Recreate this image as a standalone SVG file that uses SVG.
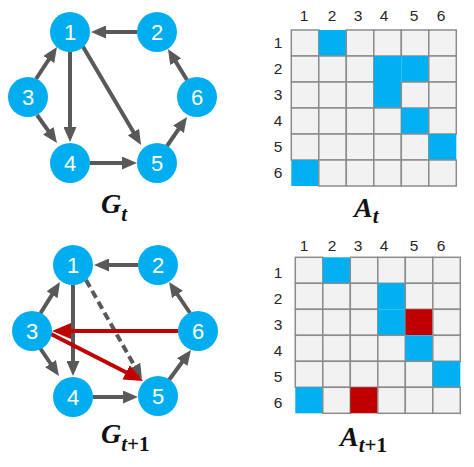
<svg xmlns="http://www.w3.org/2000/svg" width="474" height="467" viewBox="0 0 474 467">
<style>
.e{stroke:#595959;stroke-width:4;fill:none;marker-end:url(#ag)}
.d{stroke-dasharray:8 4.5}
.r{stroke:#C00000;stroke-width:4;fill:none;marker-end:url(#ar)}
.n{fill:#00AEEF}
.nt{font-family:"Liberation Sans",Arial,sans-serif;font-size:22px;fill:#fff;text-anchor:middle}
.c{fill:#F2F2F2;stroke:#8C8C8C;stroke-width:1.5}
.b{fill:#00B0F0}
.rc{fill:#C00000}
.ml{font-family:"Liberation Sans",Arial,sans-serif;font-size:15.5px;fill:#262626;text-anchor:middle}
.big{font-family:"Liberation Serif","Times New Roman",serif;font-weight:bold;font-style:italic;fill:#111}
</style>
<defs>
<marker id="ag" markerUnits="userSpaceOnUse" markerWidth="15" markerHeight="13" refX="9" refY="6.5" orient="auto" viewBox="0 0 15 13">
<path d="M0,0 L15,6.5 L0,13 z" fill="#595959"/>
</marker>
<marker id="ar" markerUnits="userSpaceOnUse" markerWidth="19" markerHeight="16" refX="13" refY="8" orient="auto" viewBox="0 0 19 16">
<path d="M0,0 L19,8 L0,16 z" fill="#C00000"/>
</marker>
</defs>

<g id="connectors">
<!-- G_t -->
<line class="e" x1="137" y1="32" x2="97" y2="32"/>
<line class="e" x1="36" y1="79" x2="53.7" y2="52"/>
<line class="e" x1="70" y1="52" x2="70" y2="136"/>
<line class="e" x1="82" y1="45" x2="138" y2="139.8"/>
<line class="e" x1="37" y1="115" x2="53.5" y2="138.1"/>
<line class="e" x1="90" y1="163" x2="131" y2="163"/>
<line class="e" x1="167" y1="146" x2="183.6" y2="121.9"/>
<line class="e" x1="187" y1="80" x2="171.1" y2="54.1"/>
<!-- G_t+1 -->
<line class="e" x1="138" y1="265" x2="100" y2="265"/>
<line class="e" x1="40" y1="314" x2="56.8" y2="287.1"/>
<line class="e" x1="73" y1="285" x2="73" y2="370"/>
<line class="e d" x1="86" y1="280" x2="139" y2="373.8"/>
<line class="e" x1="40" y1="348" x2="55.6" y2="371"/>
<line class="e" x1="93" y1="397" x2="132" y2="397"/>
<line class="e" x1="169" y1="380" x2="187.5" y2="354.8"/>
<line class="e" x1="190" y1="313" x2="172.4" y2="287"/>
<line class="r" x1="178" y1="331" x2="58" y2="331"/>
<line class="r" x1="51" y1="334" x2="137.7" y2="378.3"/>
</g>

<g id="Gt">
<g id="gt-n1"><circle class="n" cx="70" cy="32" r="20"/><text class="nt" x="70" y="40">1</text></g>
<g id="gt-n2"><circle class="n" cx="157" cy="32" r="20"/><text class="nt" x="157" y="40">2</text></g>
<g id="gt-n3"><circle class="n" cx="28" cy="97" r="20"/><text class="nt" x="28" y="105">3</text></g>
<g id="gt-n4"><circle class="n" cx="70" cy="163" r="20"/><text class="nt" x="70" y="171">4</text></g>
<g id="gt-n5"><circle class="n" cx="157" cy="163" r="20"/><text class="nt" x="157" y="171">5</text></g>
<g id="gt-n6"><circle class="n" cx="197" cy="97" r="20"/><text class="nt" x="197" y="105">6</text></g>
<text class="big" x="101" y="213" font-size="28">G<tspan font-size="21" dy="8">t</tspan></text>
</g>

<g id="Gt1">
<g id="gt1-n1"><circle class="n" cx="73" cy="265" r="20"/><text class="nt" x="73" y="273">1</text></g>
<g id="gt1-n2"><circle class="n" cx="158" cy="265" r="20"/><text class="nt" x="158" y="273">2</text></g>
<g id="gt1-n3"><circle class="n" cx="32" cy="331" r="20"/><text class="nt" x="32" y="339">3</text></g>
<g id="gt1-n4"><circle class="n" cx="73" cy="397" r="20"/><text class="nt" x="73" y="405">4</text></g>
<g id="gt1-n5"><circle class="n" cx="158" cy="396" r="20"/><text class="nt" x="158" y="404">5</text></g>
<g id="gt1-n6"><circle class="n" cx="198" cy="331" r="20"/><text class="nt" x="198" y="339">6</text></g>
<text class="big" x="101" y="443" font-size="28">G<tspan font-size="21" dy="8">t</tspan><tspan font-size="21" font-style="normal">+1</tspan></text>
</g>

<g id="At">
<g transform="translate(291.3,30)">
<rect class="c" x="0" y="0" width="27.5" height="26"/><rect class="b" x="27.5" y="0" width="27.5" height="26"/><rect class="c" x="55" y="0" width="27.5" height="26"/><rect class="c" x="82.5" y="0" width="27.5" height="26"/><rect class="c" x="110" y="0" width="27.5" height="26"/><rect class="c" x="137.5" y="0" width="27.5" height="26"/>
<rect class="c" x="0" y="26" width="27.5" height="26"/><rect class="c" x="27.5" y="26" width="27.5" height="26"/><rect class="c" x="55" y="26" width="27.5" height="26"/><rect class="b" x="82.5" y="26" width="27.5" height="26"/><rect class="b" x="110" y="26" width="27.5" height="26"/><rect class="c" x="137.5" y="26" width="27.5" height="26"/>
<rect class="c" x="0" y="52" width="27.5" height="26"/><rect class="c" x="27.5" y="52" width="27.5" height="26"/><rect class="c" x="55" y="52" width="27.5" height="26"/><rect class="b" x="82.5" y="52" width="27.5" height="26"/><rect class="c" x="110" y="52" width="27.5" height="26"/><rect class="c" x="137.5" y="52" width="27.5" height="26"/>
<rect class="c" x="0" y="78" width="27.5" height="26"/><rect class="c" x="27.5" y="78" width="27.5" height="26"/><rect class="c" x="55" y="78" width="27.5" height="26"/><rect class="c" x="82.5" y="78" width="27.5" height="26"/><rect class="b" x="110" y="78" width="27.5" height="26"/><rect class="c" x="137.5" y="78" width="27.5" height="26"/>
<rect class="c" x="0" y="104" width="27.5" height="26"/><rect class="c" x="27.5" y="104" width="27.5" height="26"/><rect class="c" x="55" y="104" width="27.5" height="26"/><rect class="c" x="82.5" y="104" width="27.5" height="26"/><rect class="c" x="110" y="104" width="27.5" height="26"/><rect class="b" x="137.5" y="104" width="27.5" height="26"/>
<rect class="b" x="0" y="130" width="27.5" height="26"/><rect class="c" x="27.5" y="130" width="27.5" height="26"/><rect class="c" x="55" y="130" width="27.5" height="26"/><rect class="c" x="82.5" y="130" width="27.5" height="26"/><rect class="c" x="110" y="130" width="27.5" height="26"/><rect class="c" x="137.5" y="130" width="27.5" height="26"/>
</g>
<text class="ml" x="304" y="21">1</text><text class="ml" x="332" y="21">2</text><text class="ml" x="358" y="21">3</text><text class="ml" x="384" y="21">4</text><text class="ml" x="414" y="21">5</text><text class="ml" x="441" y="21">6</text>
<text class="ml" x="278" y="48">1</text><text class="ml" x="278" y="74">2</text><text class="ml" x="278" y="100">3</text><text class="ml" x="278" y="126">4</text><text class="ml" x="278" y="152">5</text><text class="ml" x="278" y="178">6</text>
<text class="big" x="354" y="217" font-size="28">A<tspan font-size="21" dy="6">t</tspan></text>
</g>

<g id="At1">
<g transform="translate(295.3,257.3)">
<rect class="c" x="0" y="0" width="27.5" height="26"/><rect class="b" x="27.5" y="0" width="27.5" height="26"/><rect class="c" x="55" y="0" width="27.5" height="26"/><rect class="c" x="82.5" y="0" width="27.5" height="26"/><rect class="c" x="110" y="0" width="27.5" height="26"/><rect class="c" x="137.5" y="0" width="27.5" height="26"/>
<rect class="c" x="0" y="26" width="27.5" height="26"/><rect class="c" x="27.5" y="26" width="27.5" height="26"/><rect class="c" x="55" y="26" width="27.5" height="26"/><rect class="b" x="82.5" y="26" width="27.5" height="26"/><rect class="c" x="110" y="26" width="27.5" height="26"/><rect class="c" x="137.5" y="26" width="27.5" height="26"/>
<rect class="c" x="0" y="52" width="27.5" height="26"/><rect class="c" x="27.5" y="52" width="27.5" height="26"/><rect class="c" x="55" y="52" width="27.5" height="26"/><rect class="b" x="82.5" y="52" width="27.5" height="26"/><rect class="rc" x="110" y="52" width="27.5" height="26"/><rect class="c" x="137.5" y="52" width="27.5" height="26"/>
<rect class="c" x="0" y="78" width="27.5" height="26"/><rect class="c" x="27.5" y="78" width="27.5" height="26"/><rect class="c" x="55" y="78" width="27.5" height="26"/><rect class="c" x="82.5" y="78" width="27.5" height="26"/><rect class="b" x="110" y="78" width="27.5" height="26"/><rect class="c" x="137.5" y="78" width="27.5" height="26"/>
<rect class="c" x="0" y="104" width="27.5" height="26"/><rect class="c" x="27.5" y="104" width="27.5" height="26"/><rect class="c" x="55" y="104" width="27.5" height="26"/><rect class="c" x="82.5" y="104" width="27.5" height="26"/><rect class="c" x="110" y="104" width="27.5" height="26"/><rect class="b" x="137.5" y="104" width="27.5" height="26"/>
<rect class="b" x="0" y="130" width="27.5" height="26"/><rect class="c" x="27.5" y="130" width="27.5" height="26"/><rect class="rc" x="55" y="130" width="27.5" height="26"/><rect class="c" x="82.5" y="130" width="27.5" height="26"/><rect class="c" x="110" y="130" width="27.5" height="26"/><rect class="c" x="137.5" y="130" width="27.5" height="26"/>
</g>
<text class="ml" x="304" y="251">1</text><text class="ml" x="332" y="251">2</text><text class="ml" x="358" y="251">3</text><text class="ml" x="384" y="251">4</text><text class="ml" x="414" y="251">5</text><text class="ml" x="441" y="251">6</text>
<text class="ml" x="278" y="278">1</text><text class="ml" x="278" y="304">2</text><text class="ml" x="278" y="330">3</text><text class="ml" x="278" y="356">4</text><text class="ml" x="278" y="382">5</text><text class="ml" x="278" y="408">6</text>
<text class="big" x="340" y="446" font-size="28">A<tspan font-size="21" dy="6">t</tspan><tspan font-size="21" font-style="normal">+1</tspan></text>
</g>
</svg>
